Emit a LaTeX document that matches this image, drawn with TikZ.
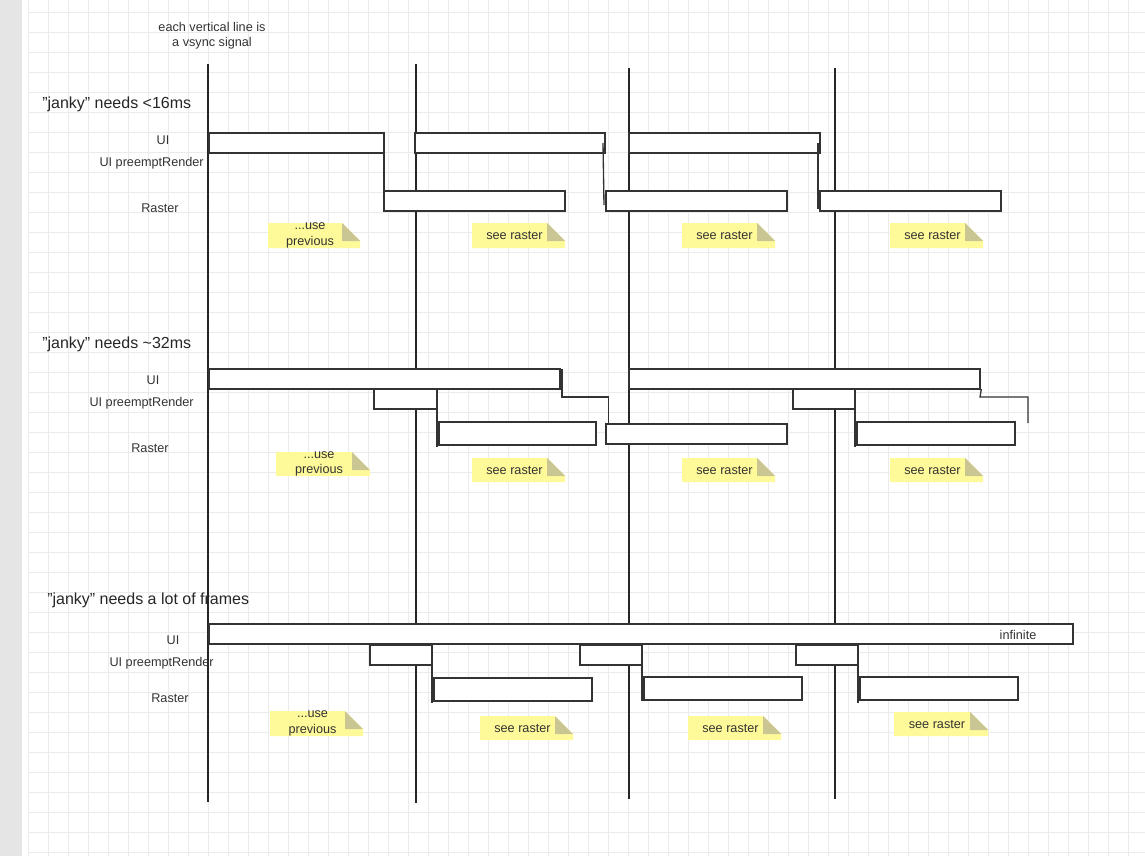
\documentclass[tikz,border=0pt]{standalone}
\usepackage{fontspec}
\setmainfont{Liberation Sans}
\usetikzlibrary{positioning}

\tikzset{
  barbox/.style={draw=black!80, line width=1.2pt, fill=white, inner sep=0pt, outer sep=0pt},
  vsync/.style={draw=black!85, line width=1.2pt},
  link/.style={draw=black!80, line width=1pt},
  lbl/.style={font=\fontsize{9.5}{11.5}\selectfont, text=black!80, inner sep=0pt},
  ttl/.style={font=\fontsize{12}{14}\selectfont, text=black!85, anchor=west, inner sep=0pt},
}

% box from pixel corner (x1,y1) to (x2,y2)
\newcommand{\slot}[5]{%
  \node[barbox, minimum width={(#4-#2)*0.75pt}, minimum height={(#5-#3)*0.75pt}]
    (#1) at ({(#2+#4)/2},{(#3+#5)/2}) {};}
% sticky note
\newcommand{\memo}[6]{%
  \fill[yellow!40] (#2,#3) -- ({#4-18},#3) -- (#4,{#3+18}) -- (#4,#5) -- (#2,#5) -- cycle;
  \fill[olive!45!yellow!60!black!45] ({#4-18},#3) -- (#4,{#3+18}) -- ({#4-18},{#3+18}) -- cycle;
  \node[lbl, align=center] (#1) at ({(#2+#4)/2-4},{(#3+#5)/2}) {#6};}
\newcommand{\qq}{\symbol{34}}

\begin{document}
\begin{tikzpicture}[x=0.75pt, y=-0.75pt]
  \useasboundingbox (0,0) rectangle (1145,856);
  \fill[white] (0,0) rectangle (1145,856);
  % grid
  \foreach \gx in {28,48,...,1145} \draw[black!8, line width=0.5pt] (\gx,0) -- (\gx,856);
  \foreach \gy in {12,32,...,856} \draw[black!8, line width=0.5pt] (28,\gy) -- (1145,\gy);
  \fill[black!10] (0,0) rectangle (22,856);

  \node[lbl, align=center] (note) at (212,36) {each vertical line is\\a vsync signal};

  % vsync lines
  \coordinate (v1t) at (208,64);  \coordinate (v1b) at (208,802);
  \coordinate (v2t) at (416,64);  \coordinate (v2b) at (416,803);
  \coordinate (v3t) at (629,68);  \coordinate (v3b) at (629,799);
  \coordinate (v4t) at (835,68);  \coordinate (v4b) at (835,799);
  \foreach \v in {v1,v2,v3,v4} \draw[vsync] (\v t) -- (\v b);

  %% case 1
  \node[ttl] (t1) at (42,104) {\qq janky\qq{} needs <16ms};
  \node[lbl] (ui1) at (163,140) {UI};
  \node[lbl, anchor=east] (pr1) at (204,163) {UI preemptRender};
  \node[lbl] (ra1) at (160,208) {Raster};
  \slot{u1a}{209}{133}{384}{153}
  \slot{u1b}{415}{133}{605}{153}
  \slot{u1c}{629}{133}{820}{153}
  \slot{r1a}{384}{191}{565}{211}
  \slot{r1b}{606}{191}{787}{211}
  \slot{r1c}{820}{191}{1001}{211}
  \draw[link] (u1a.south east) -- (r1a.north west);
  \draw[link] ([xshift=-1.5pt]u1b.east) -- ([xshift=-1.5pt]r1b.west |- 0,205);
  \draw[link] ([xshift=-1.5pt]u1c.east) -- ([xshift=-1.5pt]r1c.west |- 0,209);
  \memo{n1a}{268}{223}{360}{248}{...use\\previous}
  \memo{n1b}{472}{223}{565}{248}{see raster}
  \memo{n1c}{682}{223}{775}{248}{see raster}
  \memo{n1d}{890}{223}{983}{248}{see raster}

  %% case 2
  \node[ttl] (t2) at (42,344) {\qq janky\qq{} needs \textasciitilde 32ms};
  \node[lbl] (ui2) at (153,380) {UI};
  \node[lbl, anchor=east] (pr2) at (194,403) {UI preemptRender};
  \node[lbl] (ra2) at (150,448) {Raster};
  \slot{u2a}{209}{369}{560}{389}
  \slot{u2b}{629}{369}{980}{389}
  \slot{p2a}{374}{389}{437}{409}
  \slot{p2b}{793}{389}{855}{409}
  \slot{r2a}{439}{422}{596}{445}
  \slot{r2b}{606}{424}{787}{444}
  \slot{r2c}{857}{422}{1015}{445}
  \draw[link] (p2a.north east) -- (p2a.east |- 0,447);
  \draw[link] (p2b.north east) -- (p2b.east |- 0,447);
  \draw[link] ([xshift=1.5pt]u2a.north east) -- (562,397) -| ([xshift=2pt]r2b.north west);
  \draw[link] ([xshift=1pt]u2b.south east) -- (980,397) -- (1028,397) -- (1028,423);
  \memo{n2a}{276}{452}{370}{476}{...use\\previous}
  \memo{n2b}{472}{458}{565}{482}{see raster}
  \memo{n2c}{682}{458}{775}{482}{see raster}
  \memo{n2d}{890}{458}{983}{482}{see raster}

  %% case 3
  \node[ttl] (t3) at (47,600) {\qq janky\qq{} needs a lot of frames};
  \node[lbl] (ui3) at (173,640) {UI};
  \node[lbl, anchor=east] (pr3) at (214,663) {UI preemptRender};
  \node[lbl] (ra3) at (170,698) {Raster};
  \slot{u3}{209}{624}{1073}{644}
  \node[lbl] (inf) at (1018,635) {infinite};
  \slot{p3a}{370}{645}{432}{665}
  \slot{p3b}{580}{645}{642}{665}
  \slot{p3c}{796}{645}{858}{665}
  \slot{r3a}{434}{678}{592}{701}
  \slot{r3b}{644}{677}{802}{700}
  \slot{r3c}{860}{677}{1018}{700}
  \draw[link] (p3a.north east) -- (p3a.east |- 0,703);
  \draw[link] (p3b.north east) -- (p3b.east |- 0,701);
  \draw[link] (p3c.north east) -- (p3c.east |- 0,703);
  \memo{n3a}{270}{711}{363}{736}{...use\\previous}
  \memo{n3b}{480}{716}{573}{740}{see raster}
  \memo{n3c}{688}{716}{781}{740}{see raster}
  \memo{n3d}{894}{712}{988}{736}{see raster}
\end{tikzpicture}
\end{document}
